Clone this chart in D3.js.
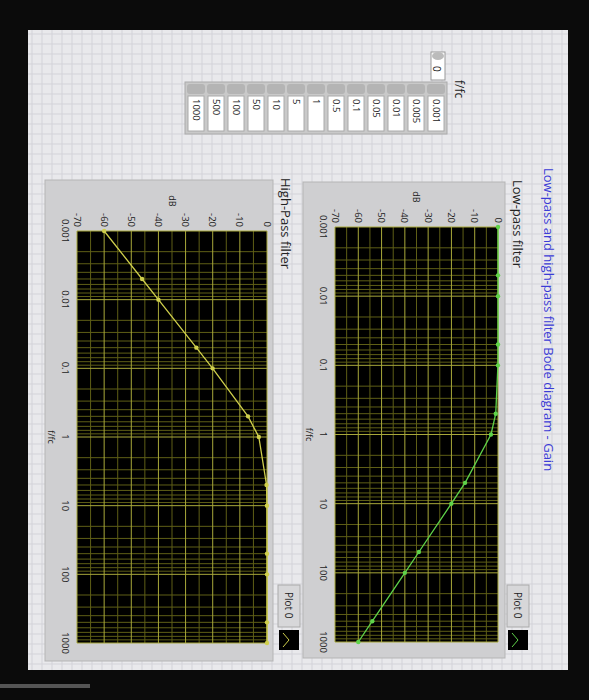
<!DOCTYPE html>
<html><head><meta charset="utf-8">
<script src="https://cdn.jsdelivr.net/npm/d3@7"></script>
<style>body{margin:0;background:#000}svg{display:block}text{font-family:"Open Sans","DejaVu Sans",sans-serif}</style>
</head><body><svg id="c" width="589" height="700"></svg>
<script>
// data
const freqLabels = ["0.001","0.005","0.01","0.05","0.1","0.5","1","5","10","50","100","500","1000"];
const freqs = [0.001,0.005,0.01,0.05,0.1,0.5,1,5,10,50,100,500,1000];
const lowPassDb = [0,0,0,0,-0.04,-0.97,-3.01,-14.15,-20.04,-33.98,-40,-53.98,-60];
const highPassDb = [-60,-46.02,-40,-26.03,-20.04,-6.99,-3.01,-0.17,-0.04,0,0,0,0];
const dbTicks = [-70,-60,-50,-40,-30,-20,-10,0];
const freqTicks = [0.001,0.01,0.1,1,10,100,1000];

const svg = d3.select("#c");
svg.append("rect").attr("width",589).attr("height",700).attr("fill","#0b0b0b");
svg.append("rect").attr("x",28).attr("y",30).attr("width",540).attr("height",640).attr("fill","#e9e9ec");
const bg = svg.append("g");
for (let x = 32; x < 568; x += 10) bg.append("line").attr("x1",x).attr("x2",x).attr("y1",30).attr("y2",670).attr("stroke","#d3d3d9").attr("stroke-width",1);
for (let y = 34; y < 670; y += 10) bg.append("line").attr("x1",28).attr("x2",568).attr("y1",y).attr("y2",y).attr("stroke","#d3d3d9").attr("stroke-width",1);
svg.append("rect").attr("x",0).attr("y",684).attr("width",90).attr("height",4).attr("fill","#555");

function rtext(x, y, s, size, color, anchor) {
  return svg.append("text").attr("transform",`translate(${x},${y}) rotate(90)`)
    .attr("font-size",size).attr("fill",color||"#222").attr("text-anchor",anchor||"start")
    .attr("dominant-baseline","central").text(s);
}

rtext(549,168,"Low-pass and high-pass filter Bode diagram - Gain",13,"#3b3bd6");

// array control
rtext(459,80,"f/fc",12,"#222");
svg.append("rect").attr("x",431).attr("y",52).attr("width",14).attr("height",28).attr("fill","#fff").attr("stroke","#999");
svg.append("ellipse").attr("cx",438).attr("cy",56).attr("rx",6).attr("ry",4).attr("fill","#bbb");
rtext(437,66,"0",10,"#222");
svg.append("rect").attr("x",185).attr("y",82).attr("width",262).attr("height",52).attr("fill","#c9c9c9").attr("stroke","#aaa");
const cellX = d3.scalePoint().domain(d3.range(freqLabels.length)).range([436,196]);
freqLabels.forEach((s,i)=>{
  const cx = cellX(i);
  svg.append("rect").attr("x",cx-9).attr("y",84).attr("width",18).attr("height",10).attr("rx",3).attr("fill","#b4b4b4");
  svg.append("rect").attr("x",cx-8).attr("y",96).attr("width",16).attr("height",35).attr("fill","#fff").attr("stroke","#aaa");
  rtext(cx,99,s,9.5,"#222");
});

function graph(o) {
  svg.append("rect").attr("x",o.px0).attr("y",o.py0).attr("width",o.px1-o.px0).attr("height",o.py1-o.py0).attr("fill","#cfcfd1").attr("stroke","#b5b5b5");
  rtext(o.px1+13,o.py0-2,o.title,13,"#222");
  const x = d3.scaleLinear().domain([-70,0]).range([o.x0,o.x1]);
  const y = d3.scaleLog().domain([0.001,1000]).range([o.y0,o.y1]);
  svg.append("rect").attr("x",o.x0).attr("y",o.y0).attr("width",o.x1-o.x0).attr("height",o.y1-o.y0).attr("fill","#000");
  const g = svg.append("g");
  const minorF = [];
  freqTicks.slice(0,-1).forEach(d=>{ for (let k=2;k<10;k++) minorF.push(d*k); });
  g.selectAll(".mf").data(minorF).join("line").attr("x1",o.x0).attr("x2",o.x1).attr("y1",d=>y(d)).attr("y2",d=>y(d)).attr("stroke","#5e5e16");
  g.selectAll(".mx").data(d3.range(-65,0,10)).join("line").attr("y1",o.y0).attr("y2",o.y1).attr("x1",d=>x(d)).attr("x2",d=>x(d)).attr("stroke","#5e5e16");
  g.selectAll(".Mf").data(freqTicks).join("line").attr("x1",o.x0).attr("x2",o.x1).attr("y1",d=>y(d)).attr("y2",d=>y(d)).attr("stroke","#a8a83a");
  g.selectAll(".Mx").data(dbTicks).join("line").attr("y1",o.y0).attr("y2",o.y1).attr("x1",d=>x(d)).attr("x2",d=>x(d)).attr("stroke","#a8a83a");
  dbTicks.forEach(d=>rtext(x(d),o.y0-4,d,9.5,"#222","end"));
  freqTicks.forEach(d=>rtext(o.x0-12,y(d),d3.format("~g")(d),9.5,"#222","middle"));
  rtext((o.x0+o.x1)/2,o.y0-30,"dB",9,"#222","middle");
  rtext(o.x0-26,(o.y0+o.y1)/2,"f/fc",9,"#222","middle");
  const pts = freqs.map((f,i)=>[x(o.data[i]),y(f)]);
  svg.append("path").attr("d",d3.line()(pts)).attr("fill","none").attr("stroke",o.color).attr("stroke-width",1.3);
  svg.selectAll(null).data(pts).join("circle").attr("cx",d=>d[0]).attr("cy",d=>d[1]).attr("r",2.2).attr("fill",o.color);
  // legend
  svg.append("rect").attr("x",o.lx).attr("y",585).attr("width",22).attr("height",42).attr("fill","#d7d7d9").attr("stroke","#aaa");
  rtext(o.lx+11,592,"Plot 0",10,"#222");
  svg.append("rect").attr("x",o.lx+1).attr("y",630).attr("width",20).attr("height",20).attr("fill","#000");
  svg.append("path").attr("d",`M${o.lx+5},${633}L${o.lx+11},${640}L${o.lx+5},${647}`).attr("fill","none").attr("stroke",o.color);
}

graph({title:"Low-pass filter",data:lowPassDb,color:"#5fd34a",
  px0:303,px1:505,py0:182,py1:658,x0:335,x1:498,y0:227,y1:642,lx:507});
graph({title:"High-Pass filter",data:highPassDb,color:"#cfcf4c",
  px0:45,px1:273,py0:180,py1:661,x0:77,x1:267,y0:231,y1:643,lx:278});
</script></body></html>
